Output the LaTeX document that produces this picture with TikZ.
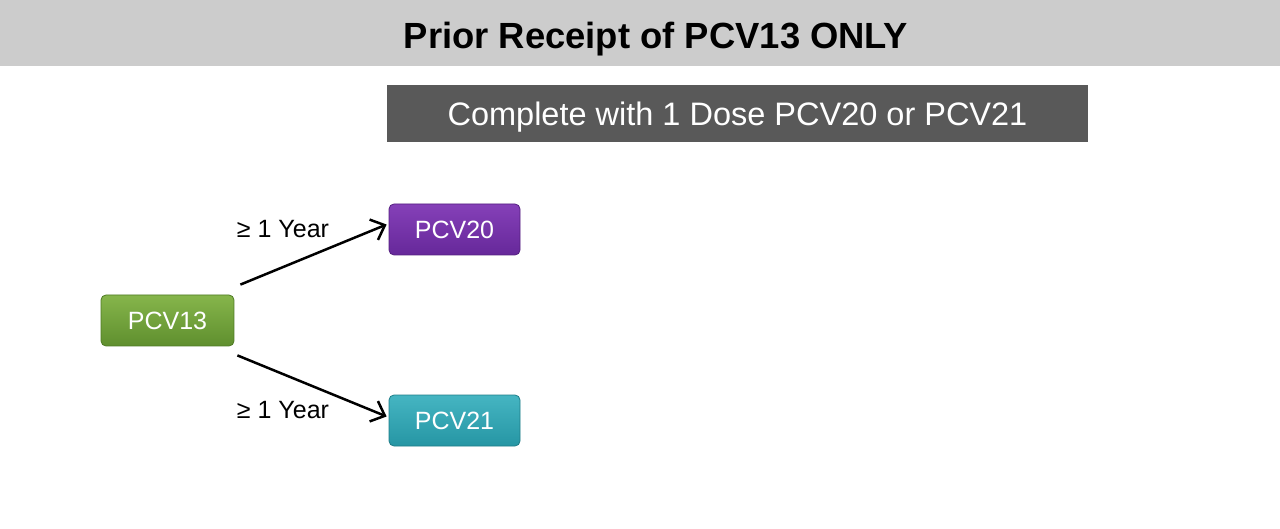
\documentclass[tikz,border=0pt]{standalone}
\usepackage{fontspec}
\setmainfont{Liberation Sans}
\usetikzlibrary{arrows.meta}
\definecolor{bandgray}{HTML}{CCCCCC}
\definecolor{darkbox}{HTML}{595959}
\definecolor{gtop}{HTML}{86B54B}
\definecolor{gbot}{HTML}{5F8F2E}
\definecolor{gline}{HTML}{4E7A24}
\definecolor{ptop}{HTML}{8540B8}
\definecolor{pbot}{HTML}{66289A}
\definecolor{pline}{HTML}{552080}
\definecolor{ttop}{HTML}{45B5C2}
\definecolor{tbot}{HTML}{2696A4}
\definecolor{tline}{HTML}{1F7D88}
\tikzset{
  x=1pt, y=-1pt,
  vbox/.style={rounded corners=5pt, minimum width=131pt, minimum height=51pt,
    inner sep=0pt, text=white, font=\fontsize{25}{28}\selectfont, line width=0.8pt},
  greenbox/.style={vbox, draw=gline, top color=gtop, bottom color=gbot},
  purplebox/.style={vbox, draw=pline, top color=ptop, bottom color=pbot},
  tealbox/.style={vbox, draw=tline, top color=ttop, bottom color=tbot},
  conn/.style={line width=2.5pt, -{Straight Barb[length=12pt,width=22pt,line width=2.5pt]}},
  lbl/.style={font=\fontsize{25}{28}\selectfont, inner sep=0pt}
}
\begin{document}
\begin{tikzpicture}
\useasboundingbox (0,0) rectangle (1280,529);
\fill[white] (0,0) rectangle (1280,529);
% header band
\fill[bandgray] (0,0) rectangle (1280,66);
\node[font=\bfseries\fontsize{36.4}{40}\selectfont, inner sep=0pt, text depth=0pt] (title) at (656,35) {Prior Receipt of PCV13 ONLY};
% subheader
\node[fill=darkbox, minimum width=701pt, minimum height=57pt, inner sep=0pt, text depth=0pt,
  text=white, font=\fontsize{32.5}{36}\selectfont] (sub) at (737.5,113.5) {Complete with 1 Dose PCV20 or PCV21};
% nodes
\node[greenbox, minimum width=133pt] (pcv13) at (167.5,320.5) {PCV13};
\node[purplebox] (pcv20) at (454.5,229.5) {PCV20};
\node[tealbox] (pcv21) at (454.5,420.5) {PCV21};
% connectors
\draw[conn] ([xshift=6pt,yshift=10pt]pcv13.north east) -- ([xshift=-2pt,yshift=5pt]pcv20.west);
\draw[conn] ([xshift=3pt,yshift=-9pt]pcv13.south east) -- ([xshift=-2pt,yshift=4pt]pcv21.west);
% labels
\node[lbl] (l1) at (283,229) {≥ 1 Year};
\node[lbl] (l2) at (283,410) {≥ 1 Year};
\end{tikzpicture}
\end{document}
